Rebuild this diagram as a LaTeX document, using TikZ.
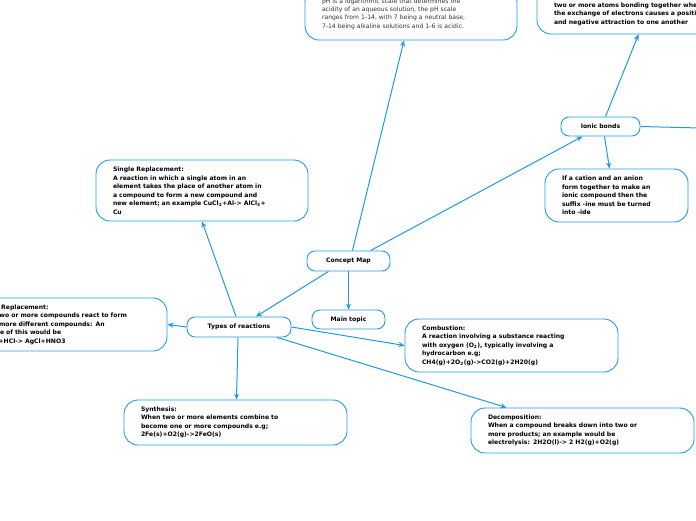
\documentclass[tikz,border=0pt]{standalone}
\usepackage{fontspec}
\setmainfont{DejaVu Sans}
\usetikzlibrary{arrows.meta}
\definecolor{mb}{HTML}{1E9BE0}
\tikzset{
 box/.style={draw=mb,line width=0.9pt,rounded corners=14pt,align=left,inner xsep=17pt,inner ysep=2pt,font=\fontsize{6.1}{8.5}\selectfont\bfseries},
 small/.style={align=center,inner xsep=2pt,rounded corners=8pt},
 con/.style={draw=mb,line width=1pt,-{Stealth[length=6pt,width=5pt]}}
}
\newcommand\bx[7][]{%
 \pgfmathsetmacro\cx{(#3+#5)/2}\pgfmathsetmacro\cy{(#4+#6)/2}%
 \pgfmathsetmacro\ww{#5-#3}\pgfmathsetmacro\hh{#6-#4}\pgfmathsetmacro\tw{#5-#3-34}%
 \node[box,#1,minimum width=\ww pt,minimum height=\hh pt,text width=\tw pt] (#2) at (\cx,\cy) {#7};}
\begin{document}
\begin{tikzpicture}[x=1pt,y=-1pt]
\useasboundingbox (0,0) rectangle (696,520);
\clip (0,0) rectangle (696,520);
\bx[font=\fontsize{6.1}{8.3}\selectfont,text=black!80]{ph}{305}{-12}{517}{40}{pH is a logarithmic scale that determines the\\ acidity of an aqueous solution, the pH scale\\ ranges from 1-14, with 7 being a neutral base,\\ 7-14 being alkaline solutions and 1-6 is acidic.}
\bx{ionictop}{537}{-14}{760}{34}{The essential nature of ionic compounds is\\ two or more atoms bonding together where\\ the exchange of electrons causes a positive\\ and negative attraction to one another}
\bx[small]{ionic}{561}{117}{640}{136}{Ionic bonds}
\coordinate (ionr) at (700,128);
\bx{cation}{545}{169}{688}{222}{If a cation and an anion\\ form together to make an\\ ionic compound then the\\ suffix -ine must be turned\\ into -ide}
\bx[small]{concept}{307}{251}{390}{271}{Concept Map}
\bx{single}{96}{160}{308}{221}{Single Replacement:\\ A reaction in which a single atom in an\\ element takes the place of another atom in\\ a compound to form a new compound and\\ new element; an example CuCl\textsubscript{2}+Al-> AlCl\textsubscript{3}+\\ Cu}
\bx{double}{-42}{298}{167}{351}{Double Replacement:\\ When two or more compounds react to form\\ two or more different compounds: An\\ example of this would be\\ AgNO3+HCl-> AgCl+HNO3}
\bx[small]{types}{187}{317}{291}{337}{Types of reactions}
\bx[small]{main}{312}{310}{385}{329}{Main topic}
\bx{comb}{405}{319}{618}{372}{Combustion:\\ A reaction involving a substance reacting\\ with oxygen (O\textsubscript{2}), typically involving a\\ hydrocarbon e.g;\\ CH4(g)+2O\textsubscript{2}(g)->CO2(g)+2H20(g)}
\bx{synth}{124}{400}{347}{445}{Synthesis:\\ When two or more elements combine to\\ become one or more compounds e.g;\\ 2Fe(s)+O2(g)->2FeO(s)}
\bx{decomp}{471}{408}{694}{453}{Decomposition:\\ When a compound breaks down into two or\\ more products; an example would be\\ electrolysis: 2H2O(l)-> 2 H2(g)+O2(g)}
\draw[con] ([xshift=4pt]concept.north) -- ([xshift=-7pt]ph.south);
\draw[con] ([xshift=22pt]concept.north) -- ([xshift=-18pt]ionic.south);
\draw[con] ([xshift=-20pt]concept.south) -- ([xshift=17pt]types.north);
\draw[con] (concept.south) -- (main.north);
\draw[con] ([xshift=-3pt]types.north) -- (single.south);
\draw[con] (types.west) -- (double.east);
\draw[con] (types.east) -- (comb.west);
\draw[con] ([xshift=38pt]types.south) -- ([xshift=-76pt]decomp.north);
\draw[con] ([xshift=-1pt]types.south) -- ([xshift=1pt]synth.north);
\draw[con] ([xshift=5pt]ionic.north) -- ([xshift=-10pt]ionictop.south);
\draw[con] ([xshift=4pt]ionic.south) -- ([xshift=-7pt]cation.north);
\draw[draw=mb,line width=1pt] (ionic.east) -- (ionr);
\end{tikzpicture}
\end{document}
